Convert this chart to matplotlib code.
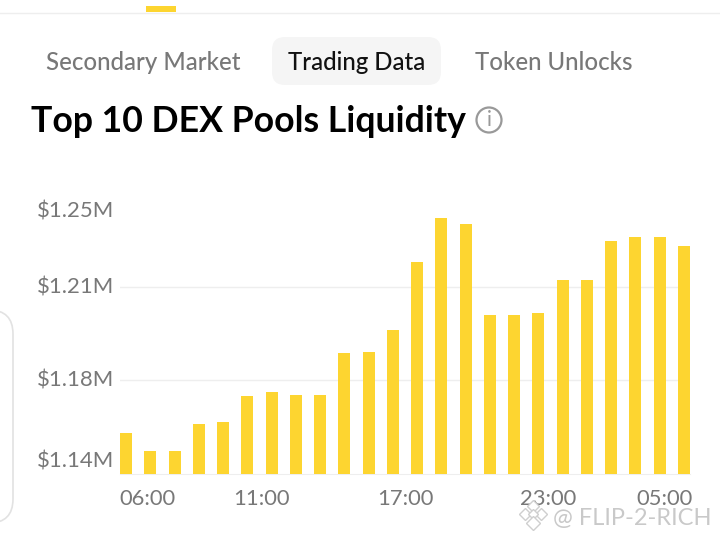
import matplotlib
matplotlib.use('Agg')
import matplotlib.pyplot as plt
from matplotlib.patches import FancyBboxPatch, Circle, Rectangle
import numpy as np

plt.rcParams['font.family'] = ['Lato', 'DejaVu Sans']

# liquidity per hour, in $M
liquidity = [1.1562, 1.1489, 1.1489, 1.1595, 1.1602, 1.1705, 1.1721, 1.1709,
             1.1709, 1.1874, 1.1877, 1.1967, 1.2232, 1.2407, 1.2383, 1.2023,
             1.2023, 1.2033, 1.2160, 1.2160, 1.2315, 1.2332, 1.2332, 1.2296]
y_ticks = [1.14, 1.1767, 1.2133, 1.25]
y_labels = ['$1.14M', '$1.18M', '$1.21M', '$1.25M']
y_label_shift = [12, 0, 0, -17]
x_ticks = [0.87, 5.6, 11.5, 17.4, 22.2]
x_labels = ['06:00', '11:00', '17:00', '23:00', '05:00']
tabs = ['Secondary Market', 'Trading Data', 'Token Unlocks']

W, H = 720, 541
YELLOW = '#fdd530'
GRID = '#eeeeee'
GRAY = '#787878'

fig = plt.figure(figsize=(W/100, H/100), dpi=100, facecolor='white')

# page furniture, in pixel coordinates
bg = fig.add_axes([0, 0, 1, 1])
bg.set_xlim(0, W)
bg.set_ylim(H, 0)
bg.axis('off')
bg.add_patch(Rectangle((146, 6), 30, 6, color=YELLOW, lw=0))
bg.plot([0, W], [12.5, 12.5], color=GRID, lw=1)
bg.add_patch(FancyBboxPatch((272, 37), 169, 48, boxstyle='round,pad=0,rounding_size=13',
                            fc='#f5f5f5', ec='none'))
bg.add_patch(FancyBboxPatch((-40, 310), 53, 213, boxstyle='round,pad=0,rounding_size=24',
                            fc='white', ec='#e2e2e2', lw=1.2))
bg.text(143, 62.5, tabs[0], fontsize=17.3, color=GRAY, ha='center', va='center', fontweight='medium')
bg.text(357, 62.5, tabs[1], fontsize=17.3, color='#111111', ha='center', va='center', fontweight='medium')
bg.text(554, 62.5, tabs[2], fontsize=17.3, color=GRAY, ha='center', va='center', fontweight='medium')
bg.text(31, 122, 'Top 10 DEX Pools Liquidity', fontsize=25.7, color='black', ha='left', va='center',
        fontweight='bold')
bg.add_patch(Circle((489, 120), 12.5, fc='white', ec='#999999', lw=1.6))
bg.text(489, 120, 'i', fontsize=15, color='#999999', ha='center', va='center')

ax = fig.add_axes([120/W, 1 - 473.7/H, 570/W, 279.7/H])
ax.set_facecolor('none')
x = np.arange(len(liquidity))
ax.bar(x, liquidity, width=0.495, color=YELLOW, zorder=3)
ax.set_xlim(-0.2475, 23.2475)
ax.set_ylim(1.14, 1.25)

for v in y_ticks[1:3]:
    ax.axhline(v, color=GRID, lw=1, zorder=1)
for s in ['top', 'left', 'right']:
    ax.spines[s].set_visible(False)
ax.spines['bottom'].set_color(GRID)

ax.set_yticks(y_ticks, [''] * len(y_ticks))
ax.set_xticks(x_ticks, x_labels)
ax.tick_params(axis='both', length=0)
ax.tick_params(axis='x', pad=11, labelsize=15.8, labelcolor=GRAY)

for v, lab, shift in zip(y_ticks, y_labels, y_label_shift):
    ax.annotate(lab, xy=(0, v), xycoords=ax.get_yaxis_transform(),
                xytext=(-4.5, shift*0.72), textcoords='offset points',
                ha='right', va='center', fontsize=15.9, color=GRAY)

# watermark
over = fig.add_axes([0, 0, 1, 1])
over.set_xlim(0, W)
over.set_ylim(H, 0)
over.axis('off')
for dx, dy, size in [(533, 506, 6), (525, 514, 6), (541, 514, 6), (533, 514, 5), (533, 523, 7)]:
    over.plot(dx, dy, marker='D', ms=size, mfc='white', mec='#cfcfcf', mew=1)
over.text(553, 519, '@ FLIP-2-RICH', fontsize=17, color='#c9c9c9', ha='left', va='center')

fig.savefig('out.png', dpi=100)
